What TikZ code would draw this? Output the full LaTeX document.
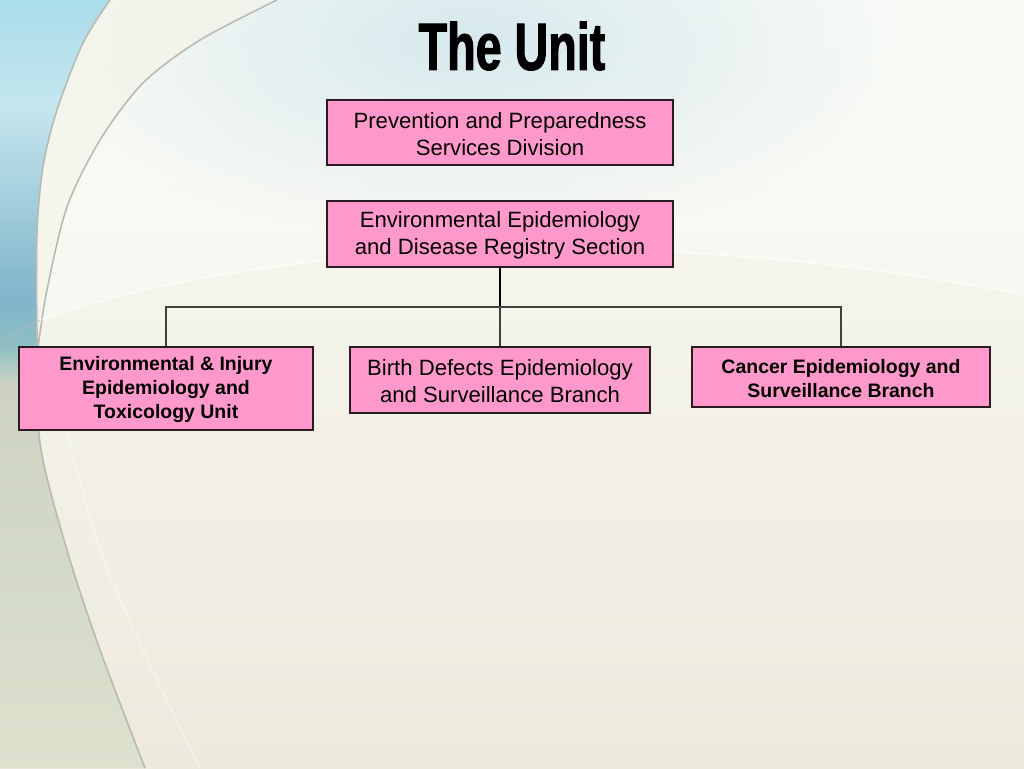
\documentclass[tikz,border=0pt]{standalone}
\usepackage{fontspec}
\setmainfont{Liberation Sans}
\newfontfamily\titlefont{Liberation Sans}[UprightFont=* Bold, FakeStretch=0.70, FakeBold=1.5]
\usetikzlibrary{fadings}
\tikzfading[name=blobfade, inner color=transparent!0, outer color=transparent!100]
\definecolor{boxpink}{HTML}{FF99CC}
\definecolor{boxline}{HTML}{2A1A22}
\definecolor{conn}{HTML}{404040}
\definecolor{bgTop}{HTML}{F7FAF4}
\definecolor{bgMid}{HTML}{F5F5EC}
\definecolor{bgBot}{HTML}{EEE9DD}
\definecolor{blob}{HTML}{C2DEE4}
\definecolor{lsTop}{HTML}{AADDEA}
\definecolor{lsA}{HTML}{C4E5EE}
\definecolor{lsB}{HTML}{80B5CA}
\definecolor{lsC}{HTML}{8EBFC4}
\definecolor{lsD}{HTML}{CDD2C2}
\definecolor{lsBot}{HTML}{DCE2CE}
\definecolor{band}{HTML}{F3F4EA}
\definecolor{arcline}{HTML}{B9BAB2}
\pgfdeclareverticalshading{leftshade}{100bp}{color(0bp)=(lsBot); color(25bp)=(lsBot); color(50bp)=(lsD); color(52.5bp)=(lsC); color(55.5bp)=(lsB); color(68bp)=(lsA); color(75bp)=(lsTop); color(100bp)=(lsTop)}
\pgfdeclareverticalshading{baseshade}{100bp}{color(0bp)=(bgBot); color(25bp)=(bgBot); color(58bp)=(bgMid); color(75bp)=(bgTop); color(100bp)=(bgTop)}
\tikzset{
  orgbox/.style={draw=boxline, fill=boxpink, line width=0.9pt, align=center, inner sep=0pt},
  regtext/.style={font=\fontsize{16.6}{20.2}\selectfont},
  boldtext/.style={font=\fontsize{14.6}{18}\selectfont\bfseries},
  link/.style={draw=conn, line width=1pt},
  arc/.style={draw=arcline, line width=1.2pt},
}
\begin{document}
\begin{tikzpicture}[x=0.75pt, y=-0.75pt]
\useasboundingbox (0,0) rectangle (1024,768);
% background
\shade[shading=baseshade] (0,0) rectangle (1024,768);
\fill[blob, path fading=blobfade] (470,40) ellipse (330pt and 150pt);
\fill[white, opacity=0.35] (40,320) .. controls (300,230) and (700,230) .. (1024,295) -- (1024,0) -- (0,0) -- cycle;
\fill[band, opacity=0.8] plot[smooth] coordinates {(110,0) (83,43) (57,110) (43,167) (37,233) (37,333)}
  -- plot[smooth] coordinates {(38,347) (47,290) (67,207) (100,140) (143,83) (200,40) (277,0)} -- cycle;
\shade[shading=leftshade] (0,0) -- plot[smooth] coordinates {(110,0) (83,43) (57,110) (43,167) (37,233) (37,333) (40,443) (67,550) (100,650) (145,768)} -- (0,768) -- cycle;
\draw[arc] plot[smooth] coordinates {(110,0) (83,43) (57,110) (43,167) (37,233) (37,333) (40,443) (67,550) (100,650) (145,768)};
\draw[arc] plot[smooth] coordinates {(277,0) (200,40) (143,83) (100,140) (67,207) (47,290) (38,347)};
\draw[white, line width=0.8pt, opacity=0.5] plot[smooth] coordinates {(67,433) (100,550) (143,650) (200,768)};
\draw[white, line width=1.2pt, opacity=0.6] (40,320) .. controls (300,230) and (700,230) .. (1024,295);
\draw[arcline, line width=0.8pt, opacity=0.7] (0,343) -- (40,320);
% title
\node (title) at (512,46) {\titlefont\fontsize{50}{50}\selectfont The Unit};
% boxes
\node[orgbox, regtext, minimum width=346*0.75pt, minimum height=65*0.75pt] (div) at (500,132.5) {\strut Prevention and Preparedness\\Services Division};
\node[orgbox, regtext, minimum width=346*0.75pt, minimum height=66*0.75pt] (sec) at (500,234) {\strut Environmental Epidemiology\\and Disease Registry Section};
\node[orgbox, boldtext, minimum width=294*0.75pt, minimum height=83*0.75pt] (eiu) at (166,388.5) {\strut Environmental \& Injury\\Epidemiology and\\Toxicology Unit};
\node[orgbox, regtext, minimum width=300*0.75pt, minimum height=66*0.75pt] (bd) at (500,380) {\strut Birth Defects Epidemiology\\and Surveillance Branch};
\node[orgbox, boldtext, minimum width=298*0.75pt, minimum height=60*0.75pt] (ca) at (841,377) {\strut Cancer Epidemiology and\\Surveillance Branch};
% connectors
\coordinate (j) at (500,307);
\draw[link, line width=1.4pt, draw=black] (sec.south) -- (j);
\draw[link] (j) -- (bd.north);
\draw[link] (eiu.north) |- (j) -| (ca.north);
\end{tikzpicture}
\end{document}
